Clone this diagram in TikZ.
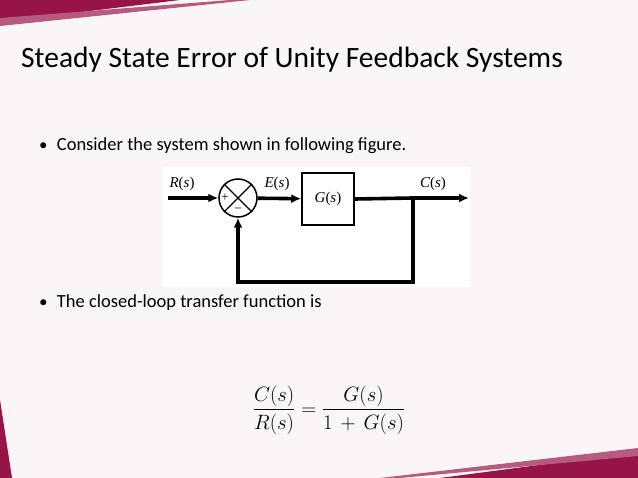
\documentclass[tikz,border=0pt]{standalone}
\usepackage{amsmath}
\usepackage{fontspec}
\setsansfont{Carlito}
\newfontfamily\tms{Liberation Serif}
\usetikzlibrary{arrows.meta}
\definecolor{bgc}{RGB}{250,246,247}
\definecolor{barc}{RGB}{150,20,70}
\tikzset{sig/.style={line width=3.6pt,-{Latex[length=10pt,width=9pt]}},
 wire/.style={line width=3.6pt},
 lbl/.style={font=\tms\fontsize{15}{15}\selectfont,inner sep=0pt},
 bul/.style={anchor=west,font=\sffamily\fontsize{18.5}{18.5}\selectfont,inner sep=0pt}}
\begin{document}
\begin{tikzpicture}[x=1pt,y=-1pt]
\fill[bgc] (0,0) rectangle (638,478);
\fill[barc] (0,0) -- (180,0) -- (0,22) -- cycle;
\fill[barc!70!white] (0,26) -- (0,18) -- (230,0) -- (250,0) -- cycle;
\fill[barc] (638,478) -- (440,478) -- (638,452) -- cycle;
\fill[barc!70!white] (638,448) -- (638,456) -- (400,478) -- (380,478) -- cycle;
\fill[barc] (0,400) -- (12,478) -- (0,478) -- cycle;
\node[anchor=west,font=\sffamily\fontsize{29.5}{29.5}\selectfont,inner sep=0pt] (title) at (21,60) {Steady State Error of Unity Feedback Systems};
\node[bul] (b1) at (39,146) {{\fontsize{17}{17}\selectfont\textbullet}\enspace Consider the system shown in following figure.};
\node[bul] (b2) at (39,303) {{\fontsize{17}{17}\selectfont\textbullet}\enspace The closed-loop transfer function is};
\fill[white] (163,167) rectangle (470,287);
\node[circle,draw,line width=1.5pt,minimum size=38pt,inner sep=0pt] (sum) at (238,198) {};
\draw[line width=1.3pt] (sum.45) -- (sum.225) (sum.135) -- (sum.315);
\node[font=\tms\fontsize{13}{13}\selectfont] at (225,198) {+};
\node[font=\tms\fontsize{13}{13}\selectfont] at (238,210) {–};
\node[draw,line width=1.5pt,minimum width=52pt,minimum height=52pt,inner sep=0pt,font=\tms\fontsize{15}{15}\selectfont] (G) at (328,199) {\textit{G}(\textit{s})};
\coordinate (in) at (168,198);
\coordinate (out) at (469,198);
\coordinate (br) at (413,198);
\coordinate (bb) at (413,282);
\coordinate (bs) at (238,282);
\draw[sig] (in) -- (sum);
\draw[sig] (sum) -- (G);
\draw[wire] (G.east) -- (br);
\draw[sig] (br) -- (out);
\draw[sig] (br) -- (bb) -- (bs) -- (sum);
\node[lbl] at (182,184) {\textit{R}(\textit{s})};
\node[lbl] at (277,184) {\textit{E}(\textit{s})};
\node[lbl] at (433,184) {\textit{C}(\textit{s})};
\node[font=\fontsize{22}{22}\selectfont] (eq) at (329,410) {$\dfrac{C(s)}{R(s)}=\dfrac{G(s)}{1\,+\,G(s)}$};
\end{tikzpicture}
\end{document}
